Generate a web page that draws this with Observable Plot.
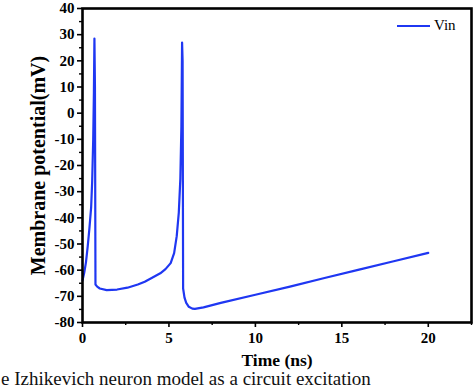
<!DOCTYPE html>
<html>
<head>
<meta charset="utf-8">
<script src="https://cdn.jsdelivr.net/npm/d3@7"></script>
<script src="https://cdn.jsdelivr.net/npm/@observablehq/plot@0.6"></script>
<style>
  html, body { margin: 0; padding: 0; background: #fff; overflow: hidden; }
  #wrap { position: relative; width: 474px; height: 388px; overflow: hidden; }
  #legend { position: absolute; left: 397px; top: 17px; font-family: "Liberation Serif", serif; font-size: 15px; color: #000; display: flex; align-items: center; }
  #legend .sw { display: inline-block; width: 33px; height: 0; border-top: 2.2px solid #1f37f2; margin-right: 4px; }
  #caption { position: absolute; left: 1px; top: 369px; font-family: "Liberation Serif", serif; font-size: 19px; line-height: 19px; white-space: nowrap; color: #111; }
</style>
</head>
<body>
<div id="wrap"></div>
<script>
const seriesName = "Vin";
const timeNs = [0, 0.1, 0.2, 0.3, 0.4, 0.5, 0.56, 0.62, 0.66, 0.69, 0.72, 0.75, 0.85, 1.0, 1.4, 2.0, 2.6, 3.2, 3.6, 4.0, 4.5, 4.8, 5.1, 5.3, 5.45, 5.57, 5.66, 5.72, 5.76, 5.79, 5.82, 5.9, 6.0, 6.15, 6.35, 6.5, 7, 8, 10, 12, 14, 16, 18, 20];
const vin = [-64, -61, -57, -51, -44, -36, -26, -10, 8, 28.5, 10, -65.5, -66.3, -67, -67.6, -67.4, -66.7, -65.5, -64.4, -63, -61.2, -59.6, -57.3, -53.5, -47, -38, -25, -5, 27, 20, -67, -70.5, -72.5, -74, -74.7, -74.8, -74.2, -72.5, -69.4, -66.3, -63, -59.8, -56.6, -53.4];
const yMajor = d3.range(-80, 41, 10);
const yMinor = d3.range(-75, 40, 10);
const xMajor = [0, 5, 10, 15, 20];
const xMinor = [2.5, 7.5, 12.5, 17.5, 22.5];
const xLabel = "Time (ns)";
const yLabel = "Membrane potential(mV)";
const captionText = "e Izhikevich neuron model as a circuit excitation";

const data = timeNs.map((t, i) => ({t, v: vin[i]}));

const chart = Plot.plot({
  width: 474,
  height: 380,
  marginLeft: 82,
  marginRight: 3,
  marginTop: 8,
  marginBottom: 58,
  style: {fontFamily: "Liberation Serif, serif", fontSize: "15px", fontWeight: "bold", color: "#000", background: "transparent", overflow: "visible"},
  x: {domain: [0, 22.5]},
  y: {domain: [-80, 40]},
  marks: [
    Plot.line(data, {x: "t", y: "v", stroke: "#1f37f2", strokeWidth: 2.2}),
    Plot.axisY(yMajor, {tickSize: 5, tickPadding: 3, strokeWidth: 1.6, label: null, tickFormat: d => String(d)}),
    Plot.axisY(yMinor, {tickSize: 3, text: null, strokeWidth: 1.4, label: null}),
    Plot.axisX(xMajor, {tickSize: 5, tickPadding: 5, strokeWidth: 1.6, label: null, tickFormat: d => String(d)}),
    Plot.axisX(xMinor, {tickSize: 3, text: null, strokeWidth: 1.4, label: null}),
    Plot.frame({stroke: "#000", strokeWidth: 2.6}),
    Plot.text([xLabel], {frameAnchor: "bottom", dy: 43, text: d => d, fontSize: 17.5, fontWeight: "bold"}),
    Plot.text([yLabel], {frameAnchor: "left", dx: -44, textAnchor: "middle", rotate: -90, text: d => d, fontSize: 20, fontWeight: "bold"})
  ]
});
chart.style.position = "absolute";
chart.style.left = "0px";
chart.style.top = "0px";
const wrap = document.getElementById("wrap");
wrap.appendChild(chart);
const leg = document.createElement("div");
leg.id = "legend";
leg.innerHTML = '<span class="sw"></span><span></span>';
leg.lastChild.textContent = seriesName;
wrap.appendChild(leg);
const cap = document.createElement("div");
cap.id = "caption";
cap.textContent = captionText;
wrap.appendChild(cap);
</script>
</body>
</html>
